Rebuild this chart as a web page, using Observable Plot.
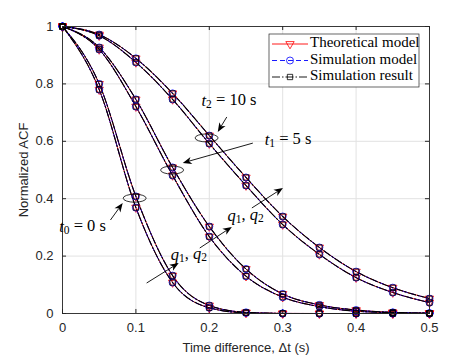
<!DOCTYPE html>
<html><head><meta charset="utf-8">
<script src="https://cdn.jsdelivr.net/npm/d3@7"></script>
<script src="https://cdn.jsdelivr.net/npm/@observablehq/plot@0.6"></script>
<style>body{margin:0;background:#fff} svg{display:block}</style>
</head><body><div id="chart"></div>
<script>
// ---- data ----
const dt = [0, 0.05, 0.1, 0.15, 0.2, 0.25, 0.3, 0.35, 0.4, 0.45, 0.5];
const t0q1 = [1, 0.800, 0.408, 0.132, 0.028, 0.004, 0.0003, 0, 0, 0, 0];
const t0q2 = [1, 0.780, 0.369, 0.108, 0.020, 0.002, 0.0001, 0, 0, 0, 0];
const t1q1 = [1, 0.927, 0.746, 0.509, 0.303, 0.155, 0.068, 0.030, 0.012, 0.004, 0.001];
const t1q2 = [1, 0.920, 0.721, 0.481, 0.268, 0.130, 0.057, 0.024, 0.008, 0.003, 0.001];
const t2q1 = [1, 0.972, 0.889, 0.767, 0.620, 0.474, 0.338, 0.230, 0.146, 0.090, 0.052];
const t2q2 = [1, 0.968, 0.875, 0.746, 0.592, 0.446, 0.310, 0.206, 0.125, 0.073, 0.038];
const curveNames = ["t0 q1", "t0 q2", "t1 q1", "t1 q2", "t2 q1", "t2 q2"];
const curveValues = [t0q1, t0q2, t1q1, t1q2, t2q1, t2q2];
const seriesNames = ["Theoretical model", "Simulation model", "Simulation result"];
const xTicks = [0, 0.1, 0.2, 0.3, 0.4, 0.5];
const yTicks = [0, 0.2, 0.4, 0.6, 0.8, 1];
// annotations (data units)
const ellipseX = [0.099, 0.150, 0.197];
const ellipseY = [0.400, 0.498, 0.610];
const labelText = [["t", "0", " = 0 s"], ["t", "1", " = 5 s"], ["t", "2", " = 10 s"], ["q", "1", ", ", "q", "2"], ["q", "1", ", ", "q", "2"]];
const labelX = [0.028, 0.308, 0.2275, 0.173, 0.250];
const labelY = [0.296, 0.599, 0.735, 0.199, 0.334];
const arrowX1 = [0.066, 0.260, 0.2245, 0.1153, 0.1877, 0.2587];
const arrowY1 = [0.324, 0.592, 0.683, 0.1045, 0.2265, 0.366];
const arrowX2 = [0.0827, 0.1645, 0.2122, 0.159, 0.2314, 0.301];
const arrowY2 = [0.383, 0.523, 0.631, 0.174, 0.300, 0.4355];

// ---- build table ----
const rows = [];
curveNames.forEach((c, ci) => seriesNames.forEach(s => dt.forEach((x, i) => rows.push({curve: c, series: s, x, y: curveValues[ci][i]}))));

const style = {
  "Theoretical model": {stroke: "#ff0000", dash: null, symbol: "triangle", rotate: 180, r: 3.1, w: 0.9},
  "Simulation model": {stroke: "#0000ff", dash: "5,3", symbol: "circle", rotate: 0, r: 3.5, w: 0.9},
  "Simulation result": {stroke: "#000000", dash: "8,2,1.5,2", symbol: "square", rotate: 0, r: 3.0, w: 1.1}
};

const lineMarks = seriesNames.map(s => Plot.line(rows.filter(d => d.series === s), {
  x: "x", y: "y", z: "curve", stroke: style[s].stroke, strokeWidth: style[s].w,
  strokeDasharray: style[s].dash, curve: "monotone-x"
}));
const dotMarks = seriesNames.map(s => Plot.dot(rows.filter(d => d.series === s), {
  x: "x", y: "y", symbol: style[s].symbol, r: style[s].r, rotate: style[s].rotate,
  stroke: style[s].stroke, fill: "none", strokeWidth: 0.8
}));

const ink = "#262626";
const chart = Plot.plot({
  width: 474, height: 355,
  marginLeft: 62, marginRight: 45, marginTop: 26, marginBottom: 42,
  x: {domain: [0, 0.5]},
  y: {domain: [0, 1]},
  style: {fontFamily: "'Liberation Sans', Arial, sans-serif", fontSize: "13px", color: ink, background: "white"},
  marks: [
    Plot.gridX(xTicks, {stroke: "#e2e2e2", strokeOpacity: 1}),
    Plot.gridY(yTicks, {stroke: "#e2e2e2", strokeOpacity: 1}),
    Plot.ruleX(xTicks, {y1: 0, y2: 0.014, stroke: ink}),
    Plot.ruleX(xTicks, {y1: 1, y2: 0.986, stroke: ink}),
    Plot.ruleY(yTicks, {x1: 0, x2: 0.0055, stroke: ink}),
    Plot.ruleY(yTicks, {x1: 0.5, x2: 0.4945, stroke: ink}),
    Plot.axisX({ticks: xTicks, tickSize: 0, tickPadding: 9, tickFormat: d3.format("~g"),
      label: "Time difference, Δt (s)", labelAnchor: "center", labelOffset: 38, labelArrow: "none", fill: ink}),
    Plot.axisY({ticks: yTicks, tickSize: 0, tickPadding: 9, tickFormat: d3.format("~g"),
      label: "Normalized ACF", labelAnchor: "center", labelOffset: 44, labelArrow: "none", fill: ink}),
    ...lineMarks,
    ...dotMarks,
    Plot.frame({stroke: ink, strokeWidth: 0.9})
  ]
});
document.getElementById("chart").appendChild(chart);

// ---- annotations via the plot's scales ----
const sx = chart.scale("x"), sy = chart.scale("y");
const svg = d3.select(chart.tagName.toLowerCase() === "svg" ? chart : chart.querySelector("svg"));
const serif = "'Liberation Serif', 'DejaVu Serif', serif";
const ann = svg.append("g");
ellipseX.forEach((x, i) => ann.append("ellipse")
  .attr("cx", sx.apply(x)).attr("cy", sy.apply(ellipseY[i]))
  .attr("rx", 11.5).attr("ry", 4).attr("fill", "none").attr("stroke", "#000").attr("stroke-width", 0.8));
arrowX1.forEach((x, i) => {
  const x1 = sx.apply(x), y1 = sy.apply(arrowY1[i]), x2 = sx.apply(arrowX2[i]), y2 = sy.apply(arrowY2[i]);
  const dx = x2 - x1, dy = y2 - y1, len = Math.hypot(dx, dy), ux = dx / len, uy = dy / len;
  const L = 9, W = 3.6, B = 6.5;
  ann.append("line").attr("x1", x1).attr("y1", y1).attr("x2", x2 - ux * B).attr("y2", y2 - uy * B)
    .attr("stroke", "#000").attr("stroke-width", 0.9);
  const bx = x2 - ux * L, by = y2 - uy * L, nx = x2 - ux * B, ny = y2 - uy * B;
  ann.append("path").attr("d", `M${x2},${y2}L${bx - uy * W},${by + ux * W}L${nx},${ny}L${bx + uy * W},${by - ux * W}Z`)
    .attr("fill", "#000");
});
labelText.forEach((parts, i) => {
  const t = ann.append("text").attr("x", sx.apply(labelX[i])).attr("y", sy.apply(labelY[i]))
    .attr("text-anchor", "middle").attr("dominant-baseline", "middle")
    .attr("font-family", serif).attr("font-size", 16.5).attr("fill", "#000");
  parts.forEach((p, j) => {
    const sub = (j === 1 || j === 4);
    const italic = (j === 0 || j === 3);
    const ts = t.append("tspan").text(p);
    if (italic) ts.attr("font-style", "italic");
    if (sub) ts.attr("font-size", 11.5).attr("dy", "0.25em");
    else if (j === 2) ts.attr("dy", "-0.25em");
  });
});

// ---- legend ----
const lg = svg.append("g");
lg.append("rect").attr("x", 269).attr("y", 34).attr("width", 150).attr("height", 53)
  .attr("fill", "white").attr("stroke", ink).attr("stroke-width", 0.7);
seriesNames.forEach((s, i) => {
  const y = 44 + i * 16.5, st = style[s];
  lg.append("line").attr("x1", 272).attr("x2", 308).attr("y1", y).attr("y2", y)
    .attr("stroke", st.stroke).attr("stroke-width", 0.9).attr("stroke-dasharray", st.dash);
  const sym = {triangle: d3.symbolTriangle, circle: d3.symbolCircle, square: d3.symbolSquare}[st.symbol];
  lg.append("path").attr("d", d3.symbol(sym, Math.PI * st.r * st.r)())
    .attr("transform", `translate(290,${y}) rotate(${st.rotate})`)
    .attr("fill", "none").attr("stroke", st.stroke).attr("stroke-width", 0.8);
  lg.append("text").attr("x", 310).attr("y", y).attr("dominant-baseline", "middle").attr("text-anchor", "start")
    .attr("font-family", serif).attr("font-size", 15).attr("fill", "#000").text(s);
});
</script>
</body></html>
